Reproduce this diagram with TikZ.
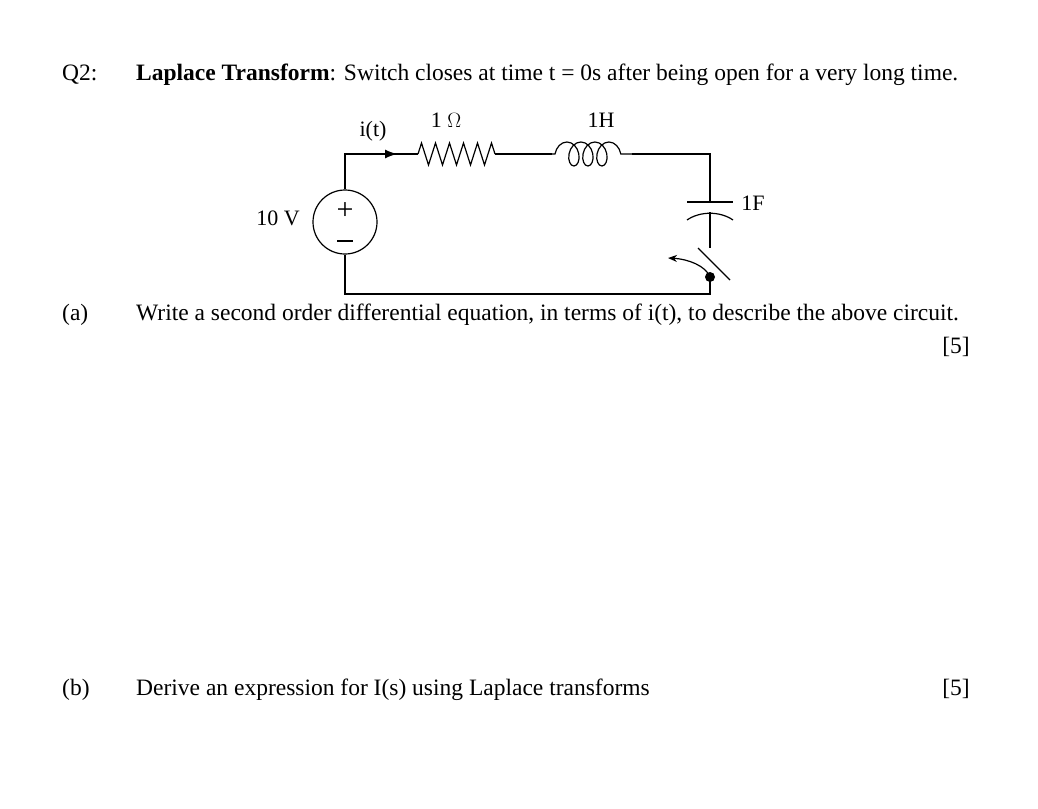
\documentclass[tikz,border=0pt]{standalone}
\usepackage{fontspec}
\setmainfont{Liberation Serif}
\usetikzlibrary{decorations.pathmorphing,arrows.meta}
\begin{document}
\begin{tikzpicture}[x=1pt,y=-1pt,
  txt/.style={inner sep=0pt,font=\fontsize{23.5}{26}\selectfont},
  lbl/.style={inner sep=0pt,font=\fontsize{22}{24}\selectfont},
  wire/.style={line width=1.2pt}]
\useasboundingbox (0,0) rectangle (1038,808);
\node[txt,anchor=base west] (q) at (62,80) {Q2:};
\node[txt,anchor=base west] (qt) at (136,80) {\textbf{Laplace Transform}: Switch closes at time t = 0s after being open for a very long time.};
\node[txt,anchor=base west] (a) at (62,320) {(a)};
\node[txt,anchor=base west] (at) at (136,320) {Write a second order differential equation, in terms of i(t), to describe the above circuit.};
\node[txt,anchor=base east] (a5) at (970,353) {[5]};
\node[txt,anchor=base west] (b) at (62,695) {(b)};
\node[txt,anchor=base west] (bt) at (136,695) {Derive an expression for I(s) using Laplace transforms};
\node[txt,anchor=base east] (b5) at (970,695) {[5]};
% circuit
\node[wire,draw,circle,minimum size=64pt,inner sep=0pt] (src) at (345,222) {};
\node[inner sep=0pt,font=\fontsize{30}{30}\selectfont] (plus) at (345,211) {+};
\draw[line width=1.2pt] (337,241) -- (353,241);
\coordinate (tl) at (345,154);
\coordinate (bl) at (345,294);
\coordinate (tr) at (710,154);
\coordinate (br) at (710,294);
\coordinate (r1) at (418,154);
\coordinate (r2) at (495,154);
\coordinate (l1) at (552,154);
\coordinate (l2) at (632,154);
\coordinate (c1) at (710,202);
\coordinate (c3) at (710,248);
\coordinate (sd) at (710,277);
\draw[wire] (src.north) -- (tl) -- (r1);
\draw[wire,decorate,decoration={zigzag,segment length=14pt,amplitude=11pt}] (r1) -- (r2);
\draw[wire] (r2) -- (l1);
\draw[wire,decorate,decoration={coil,aspect=0.7,segment length=14pt,amplitude=12pt,pre length=3pt,post length=3pt}] (l1) -- (l2);
\draw[wire] (l2) -- (tr) -- (c1);
\draw[wire] (687,202) -- (733,202);
\draw[wire] (687,220) .. controls (700,211) and (720,211) .. (733,220);
\draw[wire] (710,212) -- (c3);
\draw[wire] (src.south) -- (bl) -- (br) -- (sd);
\fill (sd) circle (5pt);
\draw[wire,-{Stealth[length=9pt,width=7pt]}] (sd) .. controls (706,266) and (688,259) .. (668,258);
\draw[wire] (698,248) -- (730,280);
\draw[wire,-{Latex[length=12pt,width=9pt]}] (tl) -- (397,154);
\node[lbl] (it) at (373,131) {i(t)};
\node[lbl] (rl) at (446,120) {1 $\Omega$};
\node[lbl] (ll) at (601,120) {1H};
\node[lbl] (vl) at (278,218) {10 V};
\node[lbl] (cl) at (753,203) {1F};
\end{tikzpicture}
\end{document}
